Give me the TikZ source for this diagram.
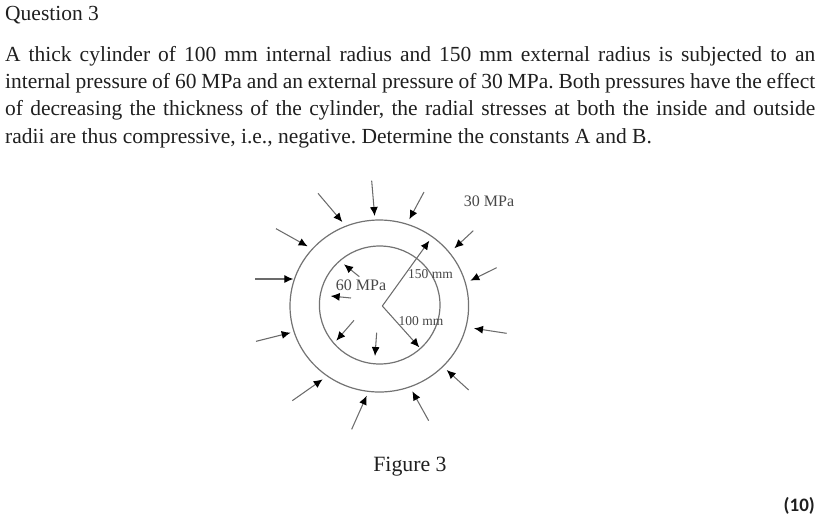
\documentclass[tikz,border=0pt]{standalone}
\usepackage{fontspec}
\setmainfont{Liberation Serif}
\newfontfamily\labelsans{Carlito}
\usetikzlibrary{arrows.meta,shapes.geometric}
\tikzset{
  bodyline/.style={anchor=west,inner sep=0pt,font=\fontsize{21.5}{24}\selectfont,text=black!88},
  figlabel/.style={inner sep=0pt,text=black!72},
  ring/.style={draw=black!55,line width=1.2pt,ellipse,inner sep=0pt},
  force/.style={draw=black!58,line width=1.05pt,-{Latex[length=9pt,width=8pt,black]}}
}
\newcommand{\jline}[1]{\makebox[810pt][s]{#1}}
\frenchspacing
\begin{document}
\begin{tikzpicture}[x=1pt,y=-1pt]
\useasboundingbox (0,0) rectangle (819,520);
\node[bodyline] (title) at (5,15) {Question 3};
\node[bodyline] (l1) at (5,56) {\jline{A thick cylinder of 100 mm internal radius and 150 mm external radius is subjected to an}};
\node[bodyline] (l2) at (5,83) {\jline{internal pressure of 60 MPa and an external pressure of 30 MPa. Both pressures have the effect}};
\node[bodyline] (l3) at (5,110) {\jline{of decreasing the thickness of the cylinder, the radial stresses at both the inside and outside}};
\node[bodyline] (l4) at (5,138) {radii are thus compressive, i.e., negative. Determine the constants A and B.};

\node[ring,minimum width=178.6pt,minimum height=172pt] (outer) at (379.3,306) {};
\node[ring,minimum width=120.6pt,minimum height=118pt] (inner) at (379.7,305) {};

\foreach \n/\ax/\ay/\bx/\by in {
 a/395/32/404/138, b/552/66/508/148, c/700/182/643/235, d/770/293/691/332,
 e/800/490/702/475, f/686/660/620/600, g/566/752/517/664, h/335/778/380/677,
 i/157/692/248/628, j/48/514/152/488, k/46/327/160/327, l/108/176/203/229,
 m/234/70/307/156, n/358/320/312/283, o/333/384/272/378, p/342/451/289/512,
 q/410/488/405/558}{
  \coordinate (s\n) at ({240+\ax/3},{170+\ay/3});
  \coordinate (t\n) at ({240+\bx/3},{170+\by/3});
  \draw[force] (s\n) -- (t\n);
}
\coordinate (centre) at ({240+427/3},{170+408/3});
\coordinate (r150) at ({240+568/3},{170+212/3});
\coordinate (r100) at ({240+538/3},{170+532/3});
\draw[force] (centre) -- (r150);
\draw[force] (centre) -- (r100);

\node[figlabel,font=\fontsize{16}{18}\selectfont] (p30) at (489,201) {30 MPa};
\node[figlabel,font=\fontsize{16}{18}\selectfont] (p60) at (361,285) {60 MPa};
\node[figlabel,font=\fontsize{13.5}{15}\selectfont] (d150) at (430.5,274) {150 mm};
\node[figlabel,font=\fontsize{13.5}{15}\selectfont] (d100) at (421,321) {100 mm};
\node[bodyline,anchor=center,font=\fontsize{21.8}{24}\selectfont] (fig) at (410,467) {Figure 3};
\node[anchor=east,inner sep=0pt,font=\labelsans\bfseries\fontsize{19}{22}\selectfont,text=black!88] (marks) at (815,506) {(10)};
\end{tikzpicture}
\end{document}
